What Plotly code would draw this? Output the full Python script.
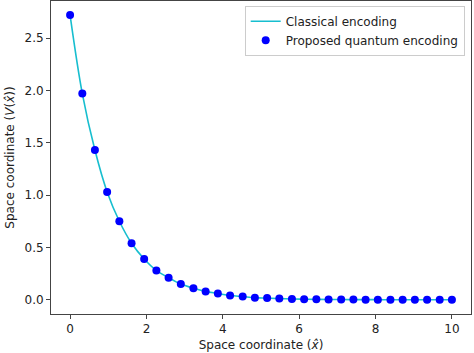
import plotly.graph_objects as go

x_vals = [0.0, 0.32, 0.65, 0.97, 1.29, 1.61, 1.94, 2.26, 2.58, 2.90, 3.23, 3.55,
          3.87, 4.19, 4.52, 4.84, 5.16, 5.48, 5.81, 6.13, 6.45, 6.77, 7.10, 7.42,
          7.74, 8.06, 8.39, 8.71, 9.03, 9.35, 9.68, 10.0]
classical_vals = [2.72, 1.97, 1.43, 1.03, 0.75, 0.54, 0.39, 0.28, 0.21, 0.15, 0.11, 0.08,
                  0.06, 0.04, 0.03, 0.02, 0.016, 0.011, 0.008, 0.006, 0.004, 0.003, 0.002, 0.0017,
                  0.0012, 0.0009, 0.0006, 0.0005, 0.0003, 0.0002, 0.00018, 0.00012]
quantum_vals = [2.72, 1.97, 1.43, 1.03, 0.75, 0.54, 0.39, 0.28, 0.21, 0.15, 0.11, 0.08,
                0.06, 0.04, 0.03, 0.02, 0.016, 0.011, 0.008, 0.006, 0.004, 0.003, 0.002, 0.0017,
                0.0012, 0.0009, 0.0006, 0.0005, 0.0003, 0.0002, 0.00018, 0.00012]
x_ticks = [0, 2, 4, 6, 8, 10]
y_ticks = [0.0, 0.5, 1.0, 1.5, 2.0, 2.5]

fig = go.Figure()
fig.add_trace(go.Scatter(x=x_vals, y=classical_vals, mode="lines", name="Classical encoding",
                         line=dict(color="#17becf", width=1.6, shape="spline")))
fig.add_trace(go.Scatter(x=x_vals, y=quantum_vals, mode="markers", name="Proposed quantum encoding",
                         marker=dict(color="#0000ff", size=8)))

axis_common = dict(showline=True, linecolor="#444444", linewidth=1, mirror=True,
                   ticks="outside", ticklen=4, tickcolor="#444444", showgrid=False,
                   zeroline=False, tickfont=dict(size=12, color="#222222"))
fig.update_xaxes(range=[-0.5, 10.5], tickvals=x_ticks, ticktext=[str(t) for t in x_ticks],
                 title=dict(text="Space coordinate (<i>x̂</i>)", font=dict(size=12, color="#222222"), standoff=5),
                 **axis_common)
fig.update_yaxes(range=[-0.136, 2.854], tickvals=y_ticks, ticktext=[f"{t:.1f}" for t in y_ticks],
                 title=dict(text="Space coordinate (<i>V</i>(<i>x̂</i>))", font=dict(size=12, color="#222222"), standoff=7),
                 **axis_common)
fig.update_layout(
    width=474, height=353, margin=dict(l=51, r=3, t=1, b=39),
    paper_bgcolor="white", plot_bgcolor="white",
    font=dict(family="DejaVu Sans", size=12, color="#222222"),
    showlegend=True,
    legend=dict(x=0.985, y=0.985, xanchor="right", yanchor="top", bgcolor="white",
                bordercolor="#cccccc", borderwidth=1, font=dict(size=12),
                tracegroupgap=0, itemwidth=30),
)
fig.write_html("out.html")
